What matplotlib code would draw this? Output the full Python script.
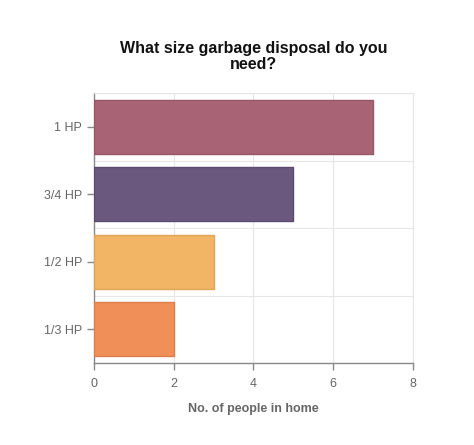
import numpy as np
import matplotlib
matplotlib.use("Agg")
import matplotlib.pyplot as plt

# data
categories = ["1 HP", "3/4 HP", "1/2 HP", "1/3 HP"]
values = [7, 5, 3, 2]
colors = ["#a86474", "#6a587e", "#f2b565", "#f08f58"]
edges = ["#985666", "#5c4b70", "#e0a457", "#de7f4a"]

plt.rcParams["font.family"] = ["Liberation Sans", "DejaVu Sans"]

fig = plt.figure(figsize=(4.74, 4.45), dpi=100)
ax = fig.add_axes([0.1983, 0.184, 0.673, 0.607])

y = np.arange(len(categories))
ax.barh(y, values, height=0.8, color=colors, edgecolor=edges, linewidth=1, zorder=3)

ax.set_xlim(0, 8)
ax.set_ylim(len(categories) - 0.5, -0.5)
ax.set_xticks([0, 2, 4, 6, 8])
ax.set_yticks(y)
ax.set_yticklabels(categories)
ax.set_yticks(np.arange(-0.5, len(categories), 1), minor=True)
ax.tick_params(axis="y", which="minor", length=0)

ax.grid(axis="x", color="#e6e6e6", linewidth=0.8, zorder=0)
ax.grid(axis="y", which="minor", color="#e6e6e6", linewidth=0.8, zorder=0)

for s in ["top", "right"]:
    ax.spines[s].set_color("#e6e6e6")
    ax.spines[s].set_linewidth(0.8)
for s in ["left", "bottom"]:
    ax.spines[s].set_color("#888888")
    ax.spines[s].set_linewidth(1)

ax.tick_params(axis="both", which="major", colors="#888888", labelcolor="#666666",
               labelsize=9, length=5, width=1)
ax.tick_params(axis="x", pad=6)

ax.set_xlabel("No. of people in home", fontsize=9, fontweight="bold",
              color="#666666", labelpad=9)
ax.set_title("What size garbage disposal do you\nneed?", fontsize=11.5,
             fontweight="bold", color="#111111", pad=17, linespacing=1.1)

fig.savefig("out.png", dpi=100, facecolor="white")
